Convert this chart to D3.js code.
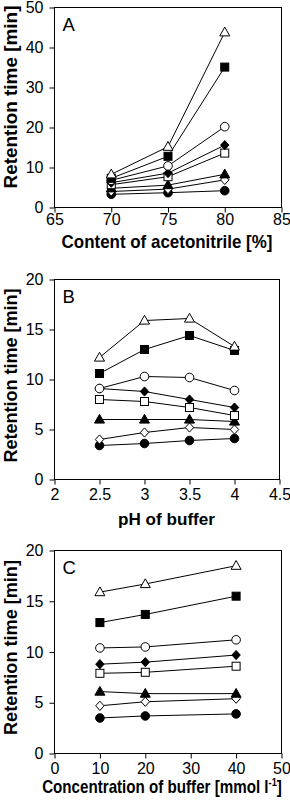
<!DOCTYPE html>
<html>
<head>
<meta charset="utf-8">
<script src="https://cdn.jsdelivr.net/npm/d3@7"></script>
<style>
  body { margin: 0; background: #fff; }
  svg { display: block; }
  text { font-family: "Liberation Sans", Arial, sans-serif; fill: #000; }
</style>
</head>
<body>
<svg id="chart" width="290" height="801"></svg>
<script>
// series symbols, same order in every panel
const symbols = ['openTriangle', 'filledSquare', 'openCircle', 'filledDiamond',
                 'openSquare', 'filledTriangle', 'openDiamond', 'filledCircle'];

// panel A - acetonitrile content
const acnX = [70, 75, 80];
const acnY = [
  [8.3, 15.2, 43.8],
  [7.3, 12.8, 35.1],
  [6.8, 10.4, 20.2],
  [6.2, 8.6, 15.6],
  [5.7, 7.7, 13.6],
  [4.8, 5.6, 8.3],
  [4.0, 4.6, 6.9],
  [3.3, 3.7, 4.2]
];
const acnTicks = [65, 70, 75, 80, 85];
const acnYTicks = [0, 10, 20, 30, 40, 50];

// panel B - pH of buffer
const phX = [2.5, 3, 3.5, 4];
const phY = [
  [12.2, 15.9, 16.1, 13.3],
  [10.6, 13.0, 14.4, 12.9],
  [9.1, 10.3, 10.2, 8.9],
  [9.1, 8.8, 8.0, 7.2],
  [8.0, 7.8, 7.2, 6.4],
  [6.0, 6.0, 6.0, 5.8],
  [4.0, 4.7, 5.2, 5.0],
  [3.4, 3.6, 3.9, 4.1]
];
const phTicks = [2, 2.5, 3, 3.5, 4, 4.5];
const phYTicks = [0, 5, 10, 15, 20];

// panel C - buffer concentration
const concX = [10, 20, 40];
const concY = [
  [15.9, 16.7, 18.5],
  [12.9, 13.7, 15.5],
  [10.4, 10.5, 11.2],
  [8.8, 9.0, 9.7],
  [7.9, 8.0, 8.6],
  [6.1, 5.9, 5.9],
  [4.7, 5.1, 5.4],
  [3.5, 3.7, 3.9]
];
const concTicks = [0, 10, 20, 30, 40, 50];
const concYTicks = [0, 5, 10, 15, 20];

const svg = d3.select('#chart');

function drawMarker(g, sym, x, y) {
  const filled = sym.startsWith('filled');
  const fill = filled ? '#000' : '#fff';
  let m;
  if (sym.endsWith('Circle')) {
    m = g.append('circle').attr('cx', x).attr('cy', y).attr('r', 4.3);
  } else if (sym.endsWith('Square')) {
    m = g.append('rect').attr('x', x - 4).attr('y', y - 4).attr('width', 8).attr('height', 8);
  } else if (sym.endsWith('Triangle')) {
    m = g.append('path').attr('d', `M${x},${y - 5.2}L${x + 5},${y + 3.6}L${x - 5},${y + 3.6}Z`);
  } else {
    m = g.append('path').attr('d', `M${x},${y - 4.6}L${x + 4.2},${y}L${x},${y + 4.6}L${x - 4.2},${y}Z`);
  }
  m.attr('fill', fill).attr('stroke', '#000').attr('stroke-width', 1);
}

function panel(opt) {
  const g = svg.append('g');
  const x = d3.scaleLinear().domain(d3.extent(opt.xTicks)).range([opt.left, opt.right]);
  const y = d3.scaleLinear().domain(d3.extent(opt.yTicks)).range([opt.bottom, opt.top]);

  g.append('rect')
    .attr('x', opt.left).attr('y', opt.top)
    .attr('width', opt.right - opt.left).attr('height', opt.bottom - opt.top)
    .attr('fill', 'none').attr('stroke', '#000').attr('stroke-width', 1);

  const xAxis = g.append('g').attr('transform', `translate(0,${opt.bottom})`)
    .call(d3.axisBottom(x).tickValues(opt.xTicks).tickSize(5).tickSizeOuter(0)
      .tickFormat(d => String(d)));
  const yAxis = g.append('g').attr('transform', `translate(${opt.left},0)`)
    .call(d3.axisLeft(y).tickValues(opt.yTicks).tickSize(5).tickSizeOuter(0));
  [xAxis, yAxis].forEach(a => {
    a.select('.domain').remove();
    a.selectAll('line').attr('stroke', '#000');
    a.selectAll('text').attr('font-size', 16).attr('font-family', '"Liberation Sans", Arial, sans-serif');
  });
  xAxis.selectAll('text').attr('dy', '0.72em').attr('y', opt.xLabelGap);
  yAxis.selectAll('text').attr('x', -11);

  const line = d3.line().x((d, i) => x(opt.xs[i])).y(d => y(d));
  // lowest series first so the upper markers sit on top
  for (let s = opt.ys.length - 1; s >= 0; s--) {
    g.append('path').attr('d', line(opt.ys[s]))
      .attr('fill', 'none').attr('stroke', '#000').attr('stroke-width', 1);
  }
  for (let s = opt.ys.length - 1; s >= 0; s--) {
    opt.ys[s].forEach((v, i) => drawMarker(g, symbols[s], x(opt.xs[i]), y(v)));
  }

  g.append('text').attr('x', opt.left + 8).attr('y', opt.top + 23)
    .attr('font-size', 18.5).text(opt.label);

  // axis titles: fitted to the width they take in the original figure
  const tx = opt.xTitleX, ty = opt.bottom + opt.xTitleGap;
  const xt = g.append('text')
    .attr('transform', `translate(${tx},${ty})`)
    .attr('text-anchor', 'middle').attr('font-size', opt.xTitleSize).attr('font-weight', 'bold');
  opt.xTitle(xt);
  const w = xt.node().getComputedTextLength();
  xt.attr('transform', `translate(${tx},${ty}) scale(${opt.xTitleWidth / w},1)`);

  const yt = g.append('text')
    .attr('text-anchor', 'middle').attr('font-size', 19).attr('font-weight', 'bold')
    .text('Retention time [min]');
  const h = yt.node().getComputedTextLength();
  yt.attr('transform', `translate(17,${opt.yTitleY}) rotate(-90) scale(${opt.yTitleLen / h},1)`);
}

panel({
  label: 'A', left: 54.5, right: 281.5, top: 7.5, bottom: 207.5,
  xs: acnX, ys: acnY, xTicks: acnTicks, yTicks: acnYTicks,
  xLabelGap: 6, xTitleGap: 40.5, xTitleX: 167, xTitleSize: 19, xTitleWidth: 211,
  yTitleY: 97, yTitleLen: 183,
  xTitle: t => t.text('Content of acetonitrile [%]')
});

panel({
  label: 'B', left: 54.5, right: 279.5, top: 279.5, bottom: 479.5,
  xs: phX, ys: phY, xTicks: phTicks, yTicks: phYTicks,
  xLabelGap: 9, xTitleGap: 45.5, xTitleX: 166.5, xTitleSize: 17, xTitleWidth: 97,
  yTitleY: 375.5, yTitleLen: 174,
  xTitle: t => t.text('pH of buffer')
});

panel({
  label: 'C', left: 54.5, right: 281.5, top: 550.5, bottom: 753.5,
  xs: concX, ys: concY, xTicks: concTicks, yTicks: concYTicks,
  xLabelGap: 9, xTitleGap: 39.5, xTitleX: 162, xTitleSize: 18, xTitleWidth: 240,
  yTitleY: 647.5, yTitleLen: 175,
  xTitle: t => {
    t.append('tspan').text('Concentration of buffer [mmol l');
    t.append('tspan').attr('font-size', 11).attr('dy', -7).text('-1');
    t.append('tspan').attr('dy', 7).text(']');
  }
});
</script>
</body>
</html>
